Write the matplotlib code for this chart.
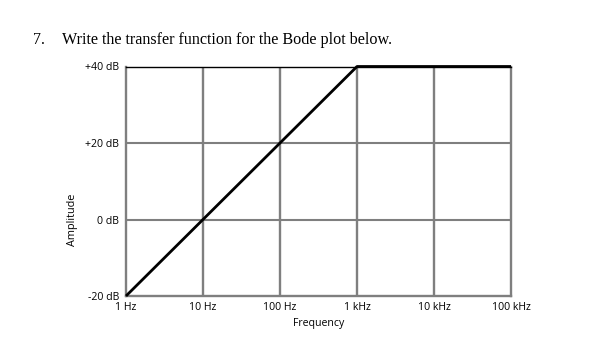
import matplotlib.pyplot as plt

freq_hz = [1, 1000, 100000]
gain_db = [-20, 40, 40]

x_ticks = [1, 10, 100, 1000, 10000, 100000]
x_labels = ["1 Hz", "10 Hz", "100 Hz", "1 kHz", "10 kHz", "100 kHz"]
y_ticks = [-20, 0, 20, 40]
y_labels = ["-20 dB", "0 dB", "+20 dB", "+40 dB"]

grid_col = "#7f7f7f"
sans = ["Open Sans", "DejaVu Sans"]

fig = plt.figure(figsize=(6.08, 3.58), dpi=100)
ax = fig.add_axes([126 / 608, 1 - 296 / 358, 385 / 608, 229.5 / 358])

ax.set_xscale("log")
ax.set_xlim(1, 100000)
ax.set_ylim(-20, 40)

for xv in x_ticks[1:-1]:
    ax.axvline(xv, color=grid_col, linewidth=1.7, zorder=1)
for yv in y_ticks[1:-1]:
    ax.axhline(yv, color=grid_col, linewidth=1.5, zorder=1)

ax.plot(freq_hz, gain_db, color="black", linewidth=2.0, zorder=3, clip_on=False,
        solid_capstyle="butt")

for side in ["left", "bottom", "right"]:
    ax.spines[side].set_color(grid_col)
    ax.spines[side].set_linewidth(1.7)
ax.spines["top"].set_color("black")
ax.spines["top"].set_linewidth(1.0)

ax.set_xticks(x_ticks)
ax.set_xticklabels(x_labels, fontsize=7.6, family=sans)
ax.minorticks_off()
ax.set_yticks(y_ticks)
ax.set_yticklabels(y_labels, fontsize=7.6, family=sans)
ax.tick_params(axis="both", length=0)
ax.tick_params(axis="x", pad=4)
ax.tick_params(axis="y", pad=5)

ax.set_xlabel("Frequency", fontsize=7.6, family=sans, labelpad=4)
ax.set_ylabel("Amplitude", fontsize=7.8, family=sans)
# label sits lower than the axes centre in the original
ax.yaxis.set_label_coords(-0.125, 0.33)

fig.text(33 / 608, 1 - 40 / 358, "7.", fontsize=11.6, family="Liberation Serif",
         va="center", ha="left")
fig.text(62 / 608, 1 - 40 / 358, "Write the transfer function for the Bode plot below.",
         fontsize=11.6, family="Liberation Serif", va="center", ha="left")

fig.savefig("out.png", dpi=100)
